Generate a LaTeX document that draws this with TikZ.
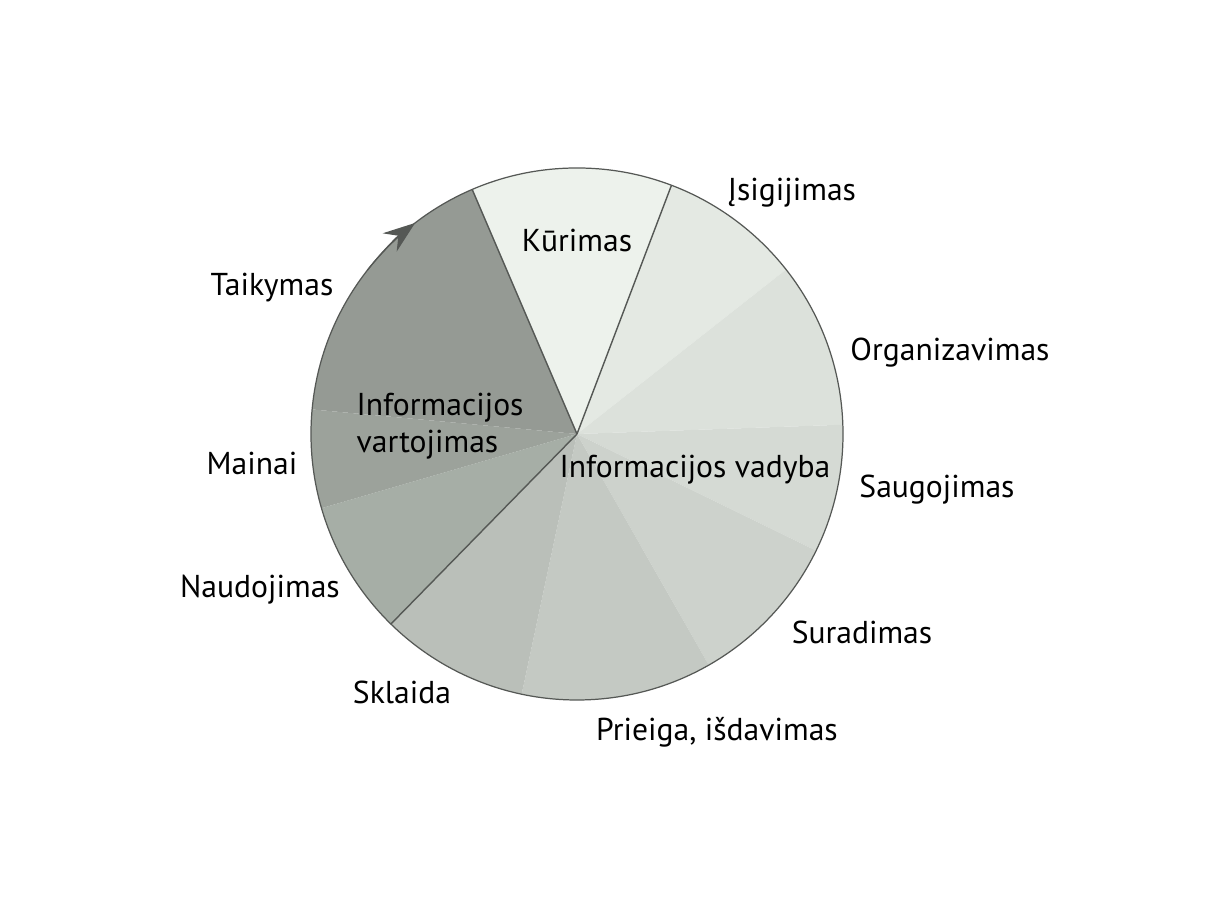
\documentclass[tikz,border=0pt]{standalone}
\usepackage{fontspec}
\setmainfont{PT Sans}
\usepackage{xcolor}
\usepackage{tikz}
\usetikzlibrary{arrows.meta}

\definecolor{cKurimas}{HTML}{EDF2EC}
\definecolor{cIsigijimas}{HTML}{E4E9E3}
\definecolor{cOrganizavimas}{HTML}{DCE1DB}
\definecolor{cSaugojimas}{HTML}{D5DAD4}
\definecolor{cSuradimas}{HTML}{CDD2CC}
\definecolor{cPrieiga}{HTML}{C4C9C3}
\definecolor{cSklaida}{HTML}{BABFB9}
\definecolor{cNaudojimas}{HTML}{A6AEA6}
\definecolor{cMainai}{HTML}{9CA29B}
\definecolor{cTaikymas}{HTML}{959A94}
\definecolor{rimgray}{HTML}{555855}

\tikzset{
    word/.style={font=\fontsize{9}{10.5}\selectfont, inner sep=0pt},
    rim/.style={draw=rimgray, line width=0.35pt},
    split/.style={draw=rimgray, line width=0.4pt}
}

\begin{document}
\begin{tikzpicture}
        \useasboundingbox (-5.77,-4.88) rectangle (6.53,4.34);

        % sectors
        \fill[cKurimas] (0,0) -- (69.2:2.66) arc (69.2:113.2:2.66) -- cycle;
        \fill[cIsigijimas] (0,0) -- (38.2:2.66) arc (38.2:69.2:2.66) -- cycle;
        \fill[cOrganizavimas] (0,0) -- (2:2.66) arc (2:38.2:2.66) -- cycle;
        \fill[cSaugojimas] (0,0) -- (-26:2.66) arc (-26:2:2.66) -- cycle;
        \fill[cSuradimas] (0,0) -- (-60.3:2.66) arc (-60.3:-26:2.66) -- cycle;
        \fill[cPrieiga] (0,0) -- (-102:2.66) arc (-102:-60.3:2.66) -- cycle;
        \fill[cSklaida] (0,0) -- (-134.4:2.66) arc (-134.4:-102:2.66) -- cycle;
        \fill[cNaudojimas] (0,0) -- (-163.8:2.66) arc (-163.8:-134.4:2.66) -- cycle;
        \fill[cMainai] (0,0) -- (174.7:2.66) arc (174.7:196.2:2.66) -- cycle;
        \fill[cTaikymas] (0,0) -- (113.2:2.66) arc (113.2:174.7:2.66) -- cycle;

        % group borders
        \coordinate (c) at (0,0);
        \coordinate (kl) at (113.2:2.66);
        \coordinate (kr) at (69.2:2.66);
        \coordinate (sn) at (-134.4:2.66);
        \draw[split] (c) -- (kl);
        \draw[split] (c) -- (kr);
        \draw[split] (c) -- (sn);
        \draw[rim] (c) circle (2.66);
        \draw[rim, -{Stealth[length=3.2mm, width=2.3mm, inset=1.1mm]}, rimgray] (142:2.66) arc (142:127.5:2.66);

        % labels
        \node[word] (kurimas) at (0, 1.93) {Kūrimas};
        \node[word] (isigijimas) at (2.15, 2.41) {Įsigijimas};
        \node[word] (organizavimas) at (3.73, 0.81) {Organizavimas};
        \node[word] (saugojimas) at (3.60, -0.56) {Saugojimas};
        \node[word] (suradimas) at (2.85, -1.98) {Suradimas};
        \node[word] (prieiga) at (1.40, -2.98) {Prieiga, išdavimas};
        \node[word] (sklaida) at (-1.75, -2.58) {Sklaida};
        \node[word] (naudojimas) at (-3.17, -1.56) {Naudojimas};
        \node[word] (mainai) at (-3.25, -0.29) {Mainai};
        \node[word] (taikymas) at (-3.05, 1.46) {Taikymas};
        \node[word, anchor=west, align=left] (vartojimas) at (-2.21, 0.08) {Informacijos\\vartojimas};
        \node[word] (vadyba) at (1.18, -0.36) {Informacijos vadyba};
    \end{tikzpicture}
\end{document}
